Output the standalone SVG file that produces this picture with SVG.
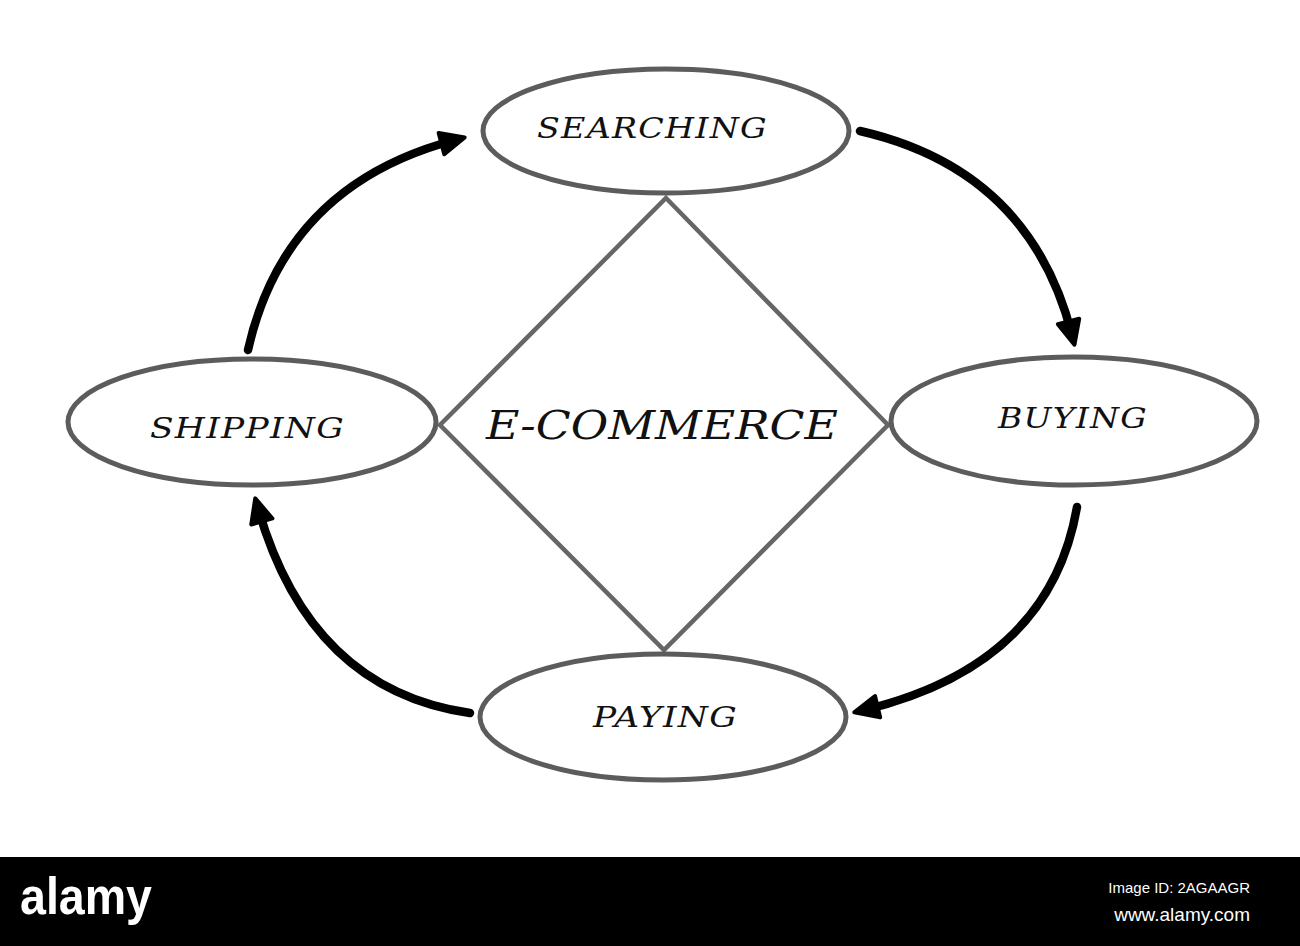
<svg xmlns="http://www.w3.org/2000/svg" width="1300" height="946" viewBox="0 0 1300 946">
<style>
.node{fill:#fff;stroke:#5c5c5c;stroke-width:5}
.lbl{font-family:"DejaVu Serif","Liberation Serif",serif;font-style:italic;font-size:27px;fill:#111;letter-spacing:1px}
.dia{fill:none;stroke:#666;stroke-width:4.5}
.arr{fill:none;stroke:#000;stroke-width:8.5;stroke-linecap:round}
</style>
<defs>
<marker id="ah" markerUnits="userSpaceOnUse" markerWidth="32" markerHeight="32" viewBox="-4 -16 32 32" refX="14" refY="0" orient="auto">
<path d="M0,-11 L24,0 L0,11 Z" fill="#000" stroke="#000" stroke-width="4" stroke-linejoin="round"/>
</marker>
</defs>
<rect width="1300" height="946" fill="#fff"/>
<g id="center">
<polygon class="dia" points="666,198 888,425 664,650 440,425"/>
<text x="486" y="439" font-family="DejaVu Serif,Liberation Serif,serif" font-style="italic" font-size="39" fill="#111" textLength="352" lengthAdjust="spacingAndGlyphs">E-COMMERCE</text>
</g>
<g id="connectors">
<path class="arr" d="M248,350 Q285,185 455,140" marker-end="url(#ah)"/>
<path class="arr" d="M860,131 Q1030,170 1072,335" marker-end="url(#ah)"/>
<path class="arr" d="M1077,507 Q1050,665 864,710" marker-end="url(#ah)"/>
<path class="arr" d="M470,713 Q310,690 258,508" marker-end="url(#ah)"/>
</g>
<g id="searching">
<ellipse class="node" cx="666" cy="131" rx="183" ry="62"/>
<text class="lbl" x="537" y="138" textLength="231" lengthAdjust="spacingAndGlyphs">SEARCHING</text>
</g>
<g id="shipping">
<ellipse class="node" cx="252" cy="422" rx="184" ry="63"/>
<text class="lbl" x="150" y="438" textLength="195" lengthAdjust="spacingAndGlyphs">SHIPPING</text>
</g>
<g id="buying">
<ellipse class="node" cx="1074" cy="421" rx="183" ry="64"/>
<text class="lbl" x="998" y="428" textLength="150" lengthAdjust="spacingAndGlyphs">BUYING</text>
</g>
<g id="paying">
<ellipse class="node" cx="663" cy="717" rx="183" ry="63"/>
<text class="lbl" x="593" y="727" textLength="145" lengthAdjust="spacingAndGlyphs">PAYING</text>
</g>
<g id="watermark">
<rect x="0" y="857" width="1300" height="89" fill="#000"/>
<text x="20" y="914" font-family="Liberation Sans Narrow,Liberation Sans,sans-serif" font-weight="bold" font-size="52" fill="#fff" textLength="132" lengthAdjust="spacingAndGlyphs">alamy</text>
<text x="1250" y="893" font-family="Liberation Sans Narrow,Liberation Sans,sans-serif" font-size="15" fill="#fff" text-anchor="end">Image ID: 2AGAAGR</text>
<text x="1250" y="921" font-family="Liberation Sans Narrow,Liberation Sans,sans-serif" font-size="19" fill="#fff" text-anchor="end">www.alamy.com</text>
</g>
</svg>
